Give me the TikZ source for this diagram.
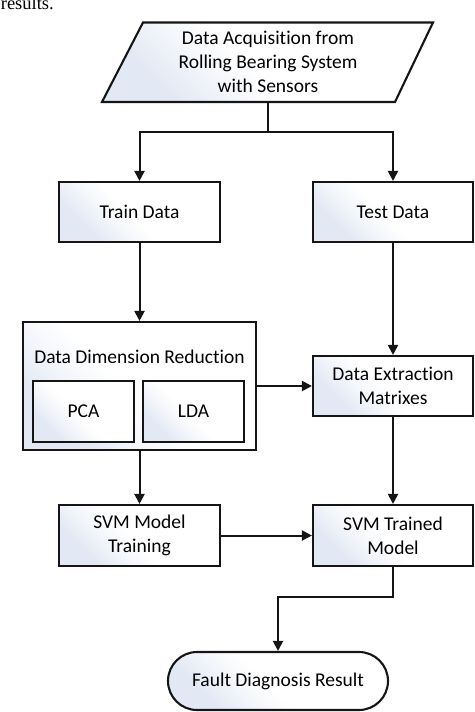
\documentclass[tikz,border=0pt]{standalone}
\usepackage{fontspec}
\setmainfont{Carlito}[RawFeature={-liga;-clig;-dlig}]
\newfontfamily\serifcap{Liberation Serif}
\usetikzlibrary{arrows.meta,shapes.misc}
\definecolor{boxtint}{HTML}{E3E9F4}
\definecolor{ink}{HTML}{151515}
\pgfdeclarehorizontalshading{fadebox}{100bp}{color(0bp)=(boxtint); color(28bp)=(boxtint); color(38bp)=(boxtint!40!white); color(47bp)=(white); color(100bp)=(white)}
\tikzset{
  base/.style={draw=ink, line width=2.1pt, shading=fadebox, shading angle=45,
     font=\fontsize{19.5}{24}\selectfont, align=center, inner sep=0pt},
  procbox/.style={base, rectangle, minimum width=#1, minimum height=60},
  termbox/.style={base, rounded rectangle, minimum width=220, minimum height=58},
  conn/.style={draw=ink, line width=2pt, -{Triangle[length=10pt,width=10pt]}},
  plainline/.style={draw=ink, line width=2pt},
  lbl/.style={font=\fontsize{19.5}{24}\selectfont, align=center, inner sep=0pt}
}
\begin{document}
\begin{tikzpicture}[x=1pt,y=-1pt]
\useasboundingbox (0,0) rectangle (474,712);
\begin{scope}
\clip (0,0) rectangle (474,712);
\node[font=\serifcap\fontsize{18.5}{20}\selectfont, anchor=base east, inner sep=0pt] (prev) at (54,9.5) {results.};
% input parallelogram
\path[base] (143,22.5) -- (433,22.5) -- (395,102) -- (102,102) -- cycle;
\node[lbl] (acq) at (268,62) {Data Acquisition from\\Rolling Bearing System\\with Sensors};
\coordinate (acqb) at (268,102);
\coordinate (split) at (268,132);

\node[procbox=161] (train) at (139.5,212) {Train Data};
\node[procbox=160] (test) at (393,212) {Test Data};

\node[procbox=233, minimum height=128] (ddr) at (139.5,386) {};
\node[lbl] (ddrt) at (139.5,357) {Data Dimension Reduction};
\node[procbox=101, minimum height=61] (pca) at (83.5,411.5) {PCA};
\node[procbox=101, minimum height=61] (lda) at (193.5,411.5) {LDA};

\node[procbox=160] (dem) at (393,386) {Data Extraction\\Matrixes};
\node[procbox=161, minimum height=61] (svmt) at (139.5,535.5) {SVM Model\\Training};
\node[procbox=160, minimum height=61] (stm) at (393,535.5) {SVM Trained\\Model};
\node[termbox] (res) at (278,681) {Fault Diagnosis Result};

\draw[plainline] (acqb) -- (split);
\draw[conn] (split) -| (train.north);
\draw[conn] (split) -| (test.north);
\draw[conn] (train) -- (ddr);
\draw[conn] (test) -- (dem);
\draw[conn] (ddr.east |- dem.west) -- (dem.west);
\draw[conn] (ddr.south -| svmt.north) -- (svmt.north);
\draw[conn] (dem) -- (stm);
\draw[conn] (svmt) -- (stm);
\draw[conn] (stm.south) -- ++(0,30) -| (res.north);
\end{scope}
\end{tikzpicture}
\end{document}
